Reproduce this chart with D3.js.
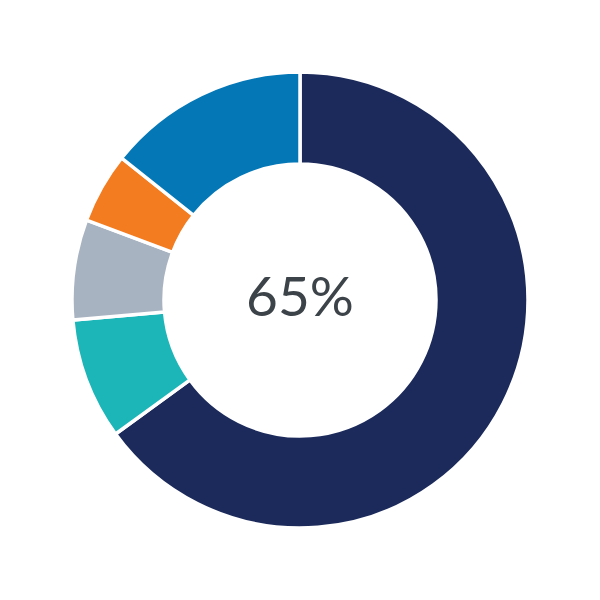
<!DOCTYPE html>
<head>
  <meta charset="utf-8">
  <script src="https://d3js.org/d3.v7.min.js"></script>
  <style>
    body { margin: 0; background: #fff; }
  </style>
</head>
<body>
<div id="container"></div>
<script>
  // slice data, clockwise from 12 o'clock
  const categories = ['A', 'B', 'C', 'D', 'E'];
  const values = [65, 8.6, 7.1, 5, 14.3];
  const colors = ['#1b2a5b', '#1cb5b8', '#a8b3c1', '#f37c20', '#0477b7'];
  const centerLabel = '65%';

  const width = 600;
  const height = 600;
  const outerRadius = 228;
  const innerRadius = 136;

  const svg = d3.select('div#container').append('svg')
    .attr('width', width)
    .attr('height', height);

  const g = svg.append('g')
    .attr('transform', `translate(${width / 2},${height / 2})`);

  const pie = d3.pie().sort(null).value(d => d.value);
  const arc = d3.arc().innerRadius(innerRadius).outerRadius(outerRadius);

  const data = categories.map((c, i) => ({name: c, value: values[i]}));

  g.selectAll('path')
    .data(pie(data))
    .enter()
    .append('path')
      .attr('d', arc)
      .style('fill', (d, i) => colors[i])
      .style('stroke', '#fff')
      .style('stroke-width', 3.5);

  g.append('text')
    .attr('y', 16)
    .style('text-anchor', 'middle')
    .style('font-family', 'Lato, sans-serif')
    .style('font-size', '55px')
    .style('fill', '#3c4349')
    .text(centerLabel);
</script>
</body>
